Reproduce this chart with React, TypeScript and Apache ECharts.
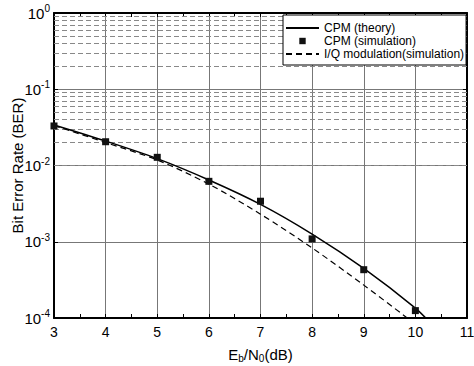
import React, { useEffect, useRef } from "react";
import * as echarts from "echarts";

// Eb/N0 (dB) positions
const simX = [3, 4, 5, 6, 7, 8, 9, 10];
const cpmSim = [0.033, 0.0205, 0.0128, 0.0062, 0.0034, 0.00109, 0.00043, 0.000125];

const theoryX = [3, 4, 5, 6, 7, 8, 9, 10, 10.3];
const cpmTheory = [0.0339, 0.0209, 0.0123, 0.00646, 0.00309, 0.00126, 0.000447, 0.000135, 0.000085];

const iqX = [3, 4, 5, 6, 7, 8, 9, 10];
const iqSim = [0.0335, 0.02, 0.0118, 0.0057, 0.0023, 0.00083, 0.00027, 0.000083];

// minor (dashed) horizontal grid lines
const minorY = [
  2e-4, 3e-4, 4e-4, 5e-4, 6e-4, 7e-4, 8e-4, 9e-4,
  2e-3, 3e-3, 4e-3, 5e-3, 6e-3, 7e-3, 8e-3, 9e-3,
  2e-2, 3e-2, 4e-2, 5e-2, 6e-2, 7e-2, 8e-2, 9e-2,
  2e-1, 3e-1, 4e-1, 5e-1, 6e-1, 7e-1, 8e-1, 9e-1,
];

const NAMES = ["CPM (theory)", "CPM (simulation)", "I/Q modulation(simulation)"];
const FONT = "Liberation Sans, Arial, sans-serif";

export default function App() {
  const ref = useRef<HTMLDivElement>(null);
  useEffect(() => {
    if (!ref.current) return;
    const chart = echarts.init(ref.current, undefined, { renderer: "svg" });
    const pair = (xs: number[], ys: number[]) => xs.map((x, i) => [x, ys[i]]);
    chart.setOption({
      animation: false,
      backgroundColor: "#fff",
      textStyle: { fontFamily: FONT },
      grid: { left: 54, right: 7, top: 13, bottom: 48, containLabel: false, outerBoundsMode: "none" },
      legend: {
        orient: "vertical",
        left: 283,
        top: 15,
        itemWidth: 33,
        itemHeight: 8,
        itemGap: 1,
        padding: [7, 2, 5, 2],
        borderColor: "#000",
        borderWidth: 1,
        borderRadius: 0,
        backgroundColor: "#fff",
        textStyle: { fontFamily: FONT, fontSize: 12, color: "#000" },
        data: [
          { name: NAMES[0], itemStyle: { opacity: 0 } },
          { name: NAMES[1], lineStyle: { opacity: 0 } },
          { name: NAMES[2], itemStyle: { opacity: 0 } },
        ],
      },
      xAxis: [
        {
          type: "value",
          min: 3,
          max: 11,
          interval: 1,
          name: "{n|E}{s|b}{n|/N}{s|0}{n|(dB)}",
          nameLocation: "middle",
          nameGap: 27,
          nameMoveOverlap: false,
          nameTextStyle: {
            rich: {
              n: { fontFamily: FONT, fontSize: 15, color: "#000" },
              s: { fontFamily: FONT, fontSize: 10, color: "#000", padding: [8, 0, 0, 0] },
            },
          },
          axisLine: { show: true, onZero: false, lineStyle: { color: "#000", width: 2 } },
          axisTick: { show: true, inside: true, length: 4, lineStyle: { color: "#000" } },
          minorTick: { show: true, splitNumber: 2, length: 4, lineStyle: { color: "#000" } },
          axisLabel: { fontFamily: FONT, fontSize: 14, color: "#000", margin: 7 },
          splitLine: { show: true, lineStyle: { color: "#777", width: 1 } },
        },
        {
          type: "value",
          position: "top",
          min: 3,
          max: 11,
          interval: 1,
          axisLine: { show: true, onZero: false, lineStyle: { color: "#000", width: 2 } },
          axisTick: { show: true, inside: true, length: 4, lineStyle: { color: "#000" } },
          minorTick: { show: true, splitNumber: 2, length: 4, lineStyle: { color: "#000" } },
          axisLabel: { show: false },
          splitLine: { show: false },
        },
      ],
      yAxis: [
        {
          type: "log",
          logBase: 10,
          min: 1e-4,
          max: 1,
          name: "Bit Error Rate (BER)",
          nameLocation: "middle",
          nameGap: 29,
          nameMoveOverlap: false,
          nameRotate: 90,
          nameTextStyle: { fontFamily: FONT, fontSize: 15, color: "#000" },
          axisLine: { show: true, onZero: false, lineStyle: { color: "#000", width: 2 } },
          axisTick: { show: true, inside: true, length: 4, lineStyle: { color: "#000" } },
          axisLabel: {
            margin: 4,
            formatter: (v: number) => `{b|10}{s|${Math.round(Math.log10(v))}}`,
            rich: {
              b: { fontFamily: FONT, fontSize: 15, color: "#000" },
              s: { fontFamily: FONT, fontSize: 10, color: "#000", padding: [0, 0, 9, 0] },
            },
          },
          splitLine: { show: true, lineStyle: { color: "#777", width: 1 } },
        },
        {
          type: "log",
          logBase: 10,
          min: 1e-4,
          max: 1,
          position: "right",
          axisLine: { show: true, onZero: false, lineStyle: { color: "#000", width: 2 } },
          axisTick: { show: true, inside: true, length: 4, lineStyle: { color: "#000" } },
          axisLabel: { show: false },
          splitLine: { show: false },
        },
      ],
      series: [
        {
          name: NAMES[0],
          type: "line",
          data: pair(theoryX, cpmTheory),
          smooth: 0.3,
          symbol: "none",
          lineStyle: { color: "#000", width: 1.5 },
          itemStyle: { color: "#000" },
          z: 5,
          markLine: {
            silent: true,
            symbol: "none",
            label: { show: false },
            lineStyle: { color: "#888", width: 1, type: [5, 3] },
            data: minorY.map((y) => ({ yAxis: y })),
            z: 1,
          },
        },
        {
          name: NAMES[1],
          type: "line",
          data: pair(simX, cpmSim),
          symbol: "rect",
          symbolSize: 7,
          showSymbol: true,
          lineStyle: { width: 0, opacity: 0 },
          itemStyle: { color: "#111" },
          z: 6,
        },
        {
          name: NAMES[2],
          type: "line",
          data: pair(iqX, iqSim),
          smooth: 0.3,
          symbol: "none",
          lineStyle: { color: "#000", width: 1.2, type: [6, 4] },
          itemStyle: { color: "#000" },
          z: 5,
        },
      ],
    });
    return () => chart.dispose();
  }, []);
  return <div ref={ref} style={{ width: 474, height: 366, position: "absolute", left: 0, top: 0 }} />;
}
